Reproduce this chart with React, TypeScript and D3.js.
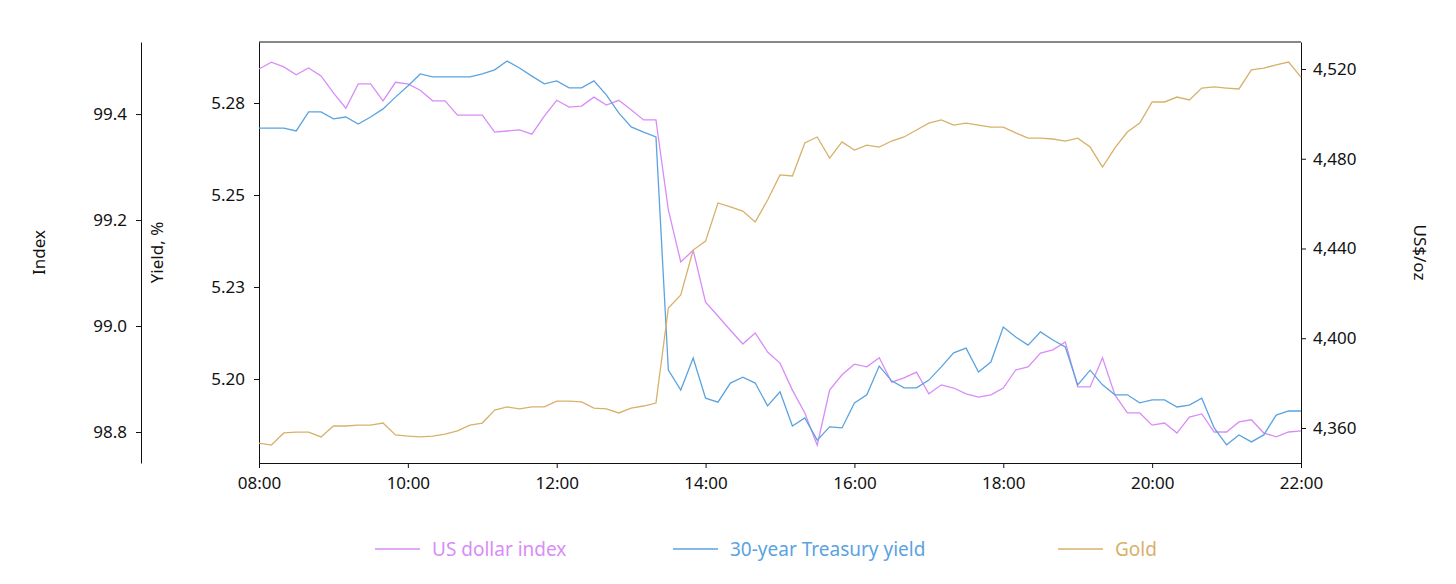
import * as d3 from "d3"
import { useRef, useEffect } from "react"

// 10-minute observations, 08:00 to 22:00
const dollarIndex = [
  99.485, 99.498, 99.489, 99.474, 99.487, 99.472, 99.44, 99.411, 99.457, 99.457,
  99.425, 99.46, 99.457, 99.445, 99.425, 99.425, 99.398, 99.398, 99.398, 99.366,
  99.368, 99.37, 99.362, 99.396, 99.426, 99.413, 99.415, 99.432, 99.417, 99.426,
  99.408, 99.389, 99.389, 99.219, 99.121, 99.143, 99.045, 99.019, 98.992, 98.966,
  98.987, 98.951, 98.93, 98.879, 98.836, 98.775, 98.879, 98.908, 98.928, 98.923,
  98.94, 98.894, 98.902, 98.913, 98.872, 98.889, 98.883, 98.872, 98.866, 98.87,
  98.883, 98.917, 98.923, 98.949, 98.955, 98.97, 98.885, 98.885, 98.94, 98.87,
  98.836, 98.836, 98.813, 98.817, 98.798, 98.828, 98.834, 98.8, 98.8, 98.819,
  98.823, 98.798, 98.791, 98.8, 98.802,
]

const treasuryYield = [
  5.2682, 5.2682, 5.2682, 5.2674, 5.2726, 5.2726, 5.2707, 5.2712, 5.2693, 5.2712,
  5.2734, 5.2766, 5.2796, 5.2829, 5.2821, 5.2821, 5.2821, 5.2821, 5.2829, 5.284,
  5.2864, 5.2845, 5.2823, 5.2802, 5.281, 5.2791, 5.2791, 5.281, 5.2772, 5.2723,
  5.2685, 5.2671, 5.2658, 5.2024, 5.197, 5.2057, 5.1948, 5.1937, 5.1989, 5.2005,
  5.1989, 5.1927, 5.1965, 5.1872, 5.1894, 5.1834, 5.187, 5.1867, 5.1935, 5.1957,
  5.2035, 5.1995, 5.1976, 5.1976, 5.1997, 5.2033, 5.2071, 5.2084, 5.2019, 5.2046,
  5.2141, 5.2114, 5.2092, 5.2128, 5.2106, 5.2087, 5.1984, 5.2024, 5.1984, 5.1957,
  5.1957, 5.1935, 5.1943, 5.1943, 5.1924, 5.1929, 5.1948, 5.1867, 5.1821, 5.1848,
  5.1829, 5.1848, 5.1902, 5.1913, 5.1913,
]

const gold = [
  4353.3, 4352.4, 4357.8, 4358.2, 4358.2, 4356.0, 4360.9, 4360.9, 4361.3, 4361.3,
  4362.2, 4356.9, 4356.4, 4356.0, 4356.4, 4357.3, 4358.7, 4361.3, 4362.2, 4368.0,
  4369.4, 4368.5, 4369.4, 4369.4, 4372.0, 4372.0, 4371.6, 4368.9, 4368.5, 4366.7,
  4368.9, 4369.8, 4371.1, 4413.5, 4419.3, 4439.3, 4443.3, 4460.3, 4458.5, 4456.7,
  4451.8, 4461.6, 4472.8, 4472.3, 4487.0, 4489.7, 4480.3, 4487.5, 4483.9, 4486.1,
  4485.2, 4487.9, 4489.7, 4492.8, 4495.9, 4497.3, 4495.0, 4495.9, 4495.0, 4494.1,
  4494.1, 4491.5, 4489.2, 4489.2, 4488.8, 4487.9, 4489.2, 4485.2, 4476.3, 4484.8,
  4491.9, 4495.9, 4505.3, 4505.3, 4507.5, 4506.2, 4511.5, 4512.0, 4511.5, 4511.1,
  4519.6, 4520.4, 4521.8, 4523.1, 4516.4,
]

const indexTicks = [98.8, 99.0, 99.2, 99.4]
const yieldTicks = [5.2, 5.225, 5.25, 5.275]
const yieldTickLabels = ["5.20", "5.23", "5.25", "5.28"]
const goldTicks = [4360, 4400, 4440, 4480, 4520]
const seriesNames = ["US dollar index", "30-year Treasury yield", "Gold"]
const seriesColors = ["#d98cf7", "#5ba3df", "#d7b16a"]

const W = 1456
const H = 584
const FONT = "'Noto Sans', 'Open Sans', sans-serif"

export default function App() {
  const svgRef = useRef<SVGSVGElement>(null)

  useEffect(() => {
    const svg = d3.select(svgRef.current)
    svg.selectAll("*").remove()

    const left = 259
    const right = 1301
    const top = 42
    const bottom = 463

    const start = new Date(2024, 0, 1, 8, 0)
    const times = dollarIndex.map((_, i) => d3.timeMinute.offset(start, i * 10))

    const x = d3
      .scaleTime()
      .domain([start, new Date(2024, 0, 1, 22, 0)])
      .range([left, right])
    const yIndex = d3.scaleLinear().domain([98.7415, 99.536]).range([bottom, top])
    const yYield = d3.scaleLinear().domain([5.17717, 5.29158]).range([bottom, top])
    const yGold = d3.scaleLinear().domain([4344.4, 4532.03]).range([bottom, top])

    const styleAxis = (g: any) => {
      g.selectAll("text").attr("font-family", FONT).attr("font-size", 17).attr("fill", "#111")
      g.selectAll("line").attr("stroke", "#111")
      g.select(".domain").attr("stroke", "#111")
    }

    // x axis
    svg
      .append("g")
      .attr("transform", `translate(0,${bottom})`)
      .call(
        d3
          .axisBottom(x)
          .ticks(d3.timeHour.every(2))
          .tickSizeOuter(0)
          .tickSize(5)
          .tickPadding(9)
          .tickFormat(d3.timeFormat("%H:%M") as any),
      )
      .call(styleAxis)

    // index axis, offset to the left
    svg
      .append("g")
      .attr("transform", `translate(141,0)`)
      .call(d3.axisLeft(yIndex).tickValues(indexTicks).tickFormat(d3.format(".1f")).tickSize(5).tickPadding(9).tickSizeOuter(0))
      .call(styleAxis)

    // yield axis
    svg
      .append("g")
      .attr("transform", `translate(${left},0)`)
      .call(
        d3
          .axisLeft(yYield)
          .tickValues(yieldTicks)
          .tickFormat((_, i) => yieldTickLabels[i])
          .tickSize(5)
          .tickPadding(9)
          .tickSizeOuter(0),
      )
      .call(styleAxis)

    // gold axis
    svg
      .append("g")
      .attr("transform", `translate(${right},0)`)
      .call(d3.axisRight(yGold).tickValues(goldTicks).tickFormat(d3.format(",")).tickSize(5).tickPadding(7).tickSizeOuter(0))
      .call(styleAxis)

    // top frame
    svg.append("line").attr("x1", left).attr("x2", right).attr("y1", top).attr("y2", top).attr("stroke", "#111")

    const labels = [
      { text: "Index", x: 45, rot: -90 },
      { text: "Yield, %", x: 163, rot: -90 },
      { text: "US$/oz", x: 1414, rot: 90 },
    ]
    labels.forEach((l) => {
      svg
        .append("text")
        .attr("transform", `translate(${l.x},${(top + bottom) / 2}) rotate(${l.rot})`)
        .attr("text-anchor", "middle")
        .attr("font-family", FONT)
        .attr("font-size", 17)
        .attr("fill", "#111")
        .text(l.text)
    })

    const series = [
      { values: dollarIndex, y: yIndex },
      { values: treasuryYield, y: yYield },
      { values: gold, y: yGold },
    ]
    series.forEach((s, k) => {
      const line = d3
        .line<number>()
        .x((_, i) => x(times[i]))
        .y((d) => s.y(d))
      svg
        .append("path")
        .attr("d", line(s.values))
        .attr("fill", "none")
        .attr("stroke", seriesColors[k])
        .attr("stroke-width", 1.3)
    })

    // legend
    const legendX = [375, 673, 1058]
    seriesNames.forEach((name, k) => {
      const g = svg.append("g").attr("transform", `translate(${legendX[k]},549)`)
      g.append("line").attr("x1", 0).attr("x2", 45).attr("stroke", seriesColors[k]).attr("stroke-width", 1.3)
      g.append("text")
        .attr("x", 57)
        .attr("dy", "0.35em")
        .attr("font-family", FONT)
        .attr("font-size", 19)
        .attr("fill", seriesColors[k])
        .text(name)
    })
  }, [])

  return (
    <svg
      ref={svgRef}
      width={W}
      height={H}
      style={{ position: "absolute", left: 0, top: 0, background: "#fff" }}
    ></svg>
  )
}
